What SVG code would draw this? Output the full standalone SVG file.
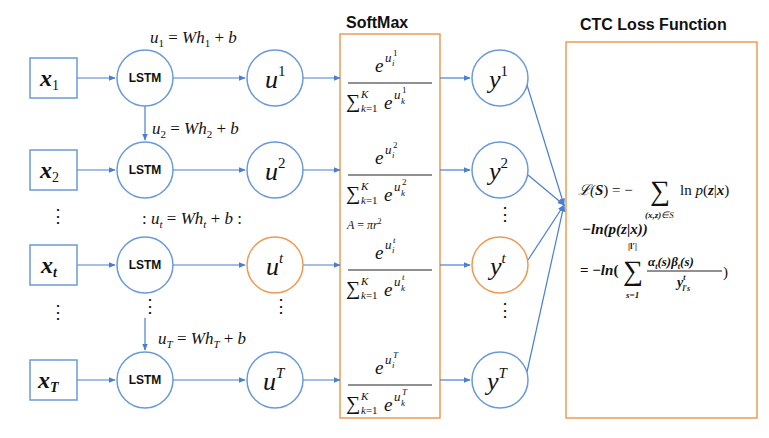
<svg xmlns="http://www.w3.org/2000/svg" width="769" height="438" viewBox="0 0 769 438">
<defs>
<marker id="a" viewBox="0 0 10 10" refX="9" refY="5" markerWidth="6" markerHeight="6" orient="auto"><path d="M0,1 L10,5 L0,9 z" fill="#4a7fd0"/></marker>
<style>
.bx{fill:#fff;stroke:#6a9ad8;stroke-width:1.5}
.c{fill:#fff;stroke:#6a9ad8;stroke-width:1.5}
.o{fill:#fff;stroke:#ee9a55;stroke-width:1.5}
.ln{stroke:#4a7fd0;stroke-width:1.2;fill:none}
.m{font-family:"Liberation Serif",serif;font-style:italic;fill:#111}
.b{font-family:"Liberation Sans",sans-serif;font-weight:bold;fill:#111}
.xl{font-family:"Liberation Serif",serif;font-weight:bold;font-style:italic;fill:#111}
.h{font-family:"Liberation Sans",sans-serif;font-weight:bold;font-size:16px;fill:#111}
.d{font-family:"Liberation Serif",serif;font-size:18px;fill:#111}
</style>
</defs>
<rect width="769" height="438" fill="#fff"/>
<text class="h" x="346" y="28">SoftMax</text>
<text class="h" x="580" y="30">CTC Loss Function</text>
<rect x="340" y="34" width="100" height="384" fill="none" stroke="#ee9a55" stroke-width="1.5"/>
<rect x="566" y="42" width="191" height="376" fill="none" stroke="#ee9a55" stroke-width="1.5"/>
<g id="connectors">
<line class="ln" x1="77" y1="78" x2="115" y2="78" marker-end="url(#a)"/>
<line class="ln" x1="77" y1="170" x2="115" y2="170" marker-end="url(#a)"/>
<line class="ln" x1="77" y1="265" x2="115" y2="265" marker-end="url(#a)"/>
<line class="ln" x1="77" y1="380" x2="115" y2="380" marker-end="url(#a)"/>
<line class="ln" x1="173" y1="78" x2="245" y2="78" marker-end="url(#a)"/>
<line class="ln" x1="173" y1="170" x2="245" y2="170" marker-end="url(#a)"/>
<line class="ln" x1="173" y1="265" x2="245" y2="265" marker-end="url(#a)"/>
<line class="ln" x1="173" y1="380" x2="245" y2="380" marker-end="url(#a)"/>
<line class="ln" x1="303" y1="78" x2="340" y2="78" marker-end="url(#a)"/>
<line class="ln" x1="303" y1="170" x2="340" y2="170" marker-end="url(#a)"/>
<line class="ln" x1="303" y1="265" x2="340" y2="265" marker-end="url(#a)"/>
<line class="ln" x1="303" y1="380" x2="340" y2="380" marker-end="url(#a)"/>
<line class="ln" x1="440" y1="78" x2="470" y2="78" marker-end="url(#a)"/>
<line class="ln" x1="440" y1="170" x2="470" y2="170" marker-end="url(#a)"/>
<line class="ln" x1="440" y1="265" x2="470" y2="265" marker-end="url(#a)"/>
<line class="ln" x1="440" y1="380" x2="470" y2="380" marker-end="url(#a)"/>
<line class="ln" x1="145" y1="106" x2="145" y2="140" marker-end="url(#a)"/>
<line class="ln" x1="145" y1="318" x2="145" y2="350" marker-end="url(#a)"/>
<line class="ln" x1="527" y1="85" x2="564" y2="205" marker-end="url(#a)"/>
<line class="ln" x1="528" y1="175" x2="564" y2="205" marker-end="url(#a)"/>
<line class="ln" x1="528" y1="260" x2="564" y2="205" marker-end="url(#a)"/>
<line class="ln" x1="527" y1="372" x2="564" y2="205" marker-end="url(#a)"/>
</g>
<g id="x1"><rect class="bx" x="30" y="58" width="47" height="40"/><text class="xl" font-size="24" x="40" y="86">x<tspan font-size="14" font-weight="normal" font-style="normal" dy="4">1</tspan></text></g>
<g id="x2"><rect class="bx" x="30" y="150" width="47" height="40"/><text class="xl" font-size="24" x="40" y="178">x<tspan font-size="14" font-weight="normal" font-style="normal" dy="4">2</tspan></text></g>
<g id="xt"><rect class="bx" x="30" y="245" width="47" height="40"/><text class="xl" font-size="24" x="41" y="273">x<tspan font-size="14" dy="4">t</tspan></text></g>
<g id="xT"><rect class="bx" x="30" y="360" width="47" height="40"/><text class="xl" font-size="24" x="38" y="388">x<tspan font-size="14" dy="4">T</tspan></text></g>
<g id="lstm1"><circle class="c" cx="145" cy="78" r="28"/><text class="b" font-size="12" x="145" y="82" text-anchor="middle">LSTM</text></g>
<g id="lstm2"><circle class="c" cx="145" cy="170" r="28"/><text class="b" font-size="12" x="145" y="174" text-anchor="middle">LSTM</text></g>
<g id="lstmt"><circle class="c" cx="145" cy="265" r="28"/><text class="b" font-size="12" x="145" y="269" text-anchor="middle">LSTM</text></g>
<g id="lstmT"><circle class="c" cx="145" cy="380" r="28"/><text class="b" font-size="12" x="145" y="384" text-anchor="middle">LSTM</text></g>
<g id="u1"><circle class="c" cx="275" cy="78" r="28"/><text class="m" font-size="26" x="265" y="88">u<tspan font-size="15" font-style="normal" dy="-12">1</tspan></text></g>
<g id="u2"><circle class="c" cx="275" cy="170" r="28"/><text class="m" font-size="26" x="265" y="180">u<tspan font-size="15" font-style="normal" dy="-12">2</tspan></text></g>
<g id="ut"><circle class="o" cx="275" cy="265" r="28"/><text class="m" font-size="26" x="266" y="275">u<tspan font-size="15" dy="-12">t</tspan></text></g>
<g id="uT"><circle class="c" cx="275" cy="380" r="28"/><text class="m" font-size="26" x="263" y="390">u<tspan font-size="15" dy="-12">T</tspan></text></g>
<g id="y1"><circle class="c" cx="500" cy="78" r="28"/><text class="m" font-size="26" x="489" y="88">y<tspan font-size="15" font-style="normal" dy="-12">1</tspan></text></g>
<g id="y2"><circle class="c" cx="500" cy="170" r="28"/><text class="m" font-size="26" x="489" y="180">y<tspan font-size="15" font-style="normal" dy="-12">2</tspan></text></g>
<g id="yt"><circle class="o" cx="500" cy="265" r="28"/><text class="m" font-size="26" x="490" y="275">y<tspan font-size="15" dy="-12">t</tspan></text></g>
<g id="yT"><circle class="c" cx="500" cy="380" r="28"/><text class="m" font-size="26" x="487" y="390">y<tspan font-size="15" dy="-12">T</tspan></text></g>
<g id="labels" class="m" font-size="17">
<text x="150" y="43">u<tspan font-size="11" font-style="normal" dy="4">1</tspan><tspan dy="-4" font-style="normal"> = </tspan>Wh<tspan font-size="11" font-style="normal" dy="4">1</tspan><tspan dy="-4" font-style="normal"> + </tspan>b</text>
<text x="152" y="134">u<tspan font-size="11" font-style="normal" dy="4">2</tspan><tspan dy="-4" font-style="normal"> = </tspan>Wh<tspan font-size="11" font-style="normal" dy="4">2</tspan><tspan dy="-4" font-style="normal"> + </tspan>b</text>
<text x="142" y="224"><tspan font-style="normal">: </tspan>u<tspan font-size="11" dy="4">t</tspan><tspan dy="-4" font-style="normal"> = </tspan>Wh<tspan font-size="11" dy="4">t</tspan><tspan dy="-4" font-style="normal"> + </tspan>b<tspan font-style="normal"> :</tspan></text>
<text x="158" y="344">u<tspan font-size="11" dy="4">T</tspan><tspan dy="-4" font-style="normal"> = </tspan>Wh<tspan font-size="11" dy="4">T</tspan><tspan dy="-4" font-style="normal"> + </tspan>b</text>
<text x="347" y="229" font-size="12">A <tspan font-style="normal">=</tspan> πr<tspan font-size="8" font-style="normal" dy="-5">2</tspan></text>
</g>
<g id="dots" class="d">
<text x="49" y="222">⋮</text><text x="49" y="318">⋮</text>
<text x="141" y="312">⋮</text><text x="272" y="312">⋮</text>
<text x="496" y="220">⋮</text><text x="496" y="316">⋮</text>
</g>
<g id="softmax" class="m">
<g transform="translate(390,0)">
<text x="-15" y="72" font-size="19">e</text><text x="-5" y="62" font-size="13">u</text><text x="2" y="66" font-size="9">i</text><text x="3" y="56" font-size="9" font-style="normal">1</text>
<line x1="-42" y1="83" x2="42" y2="83" stroke="#222" stroke-width="1.2"/>
<text x="-44" y="108" font-size="20" font-style="normal">∑</text><text x="-29" y="98" font-size="11">K</text><text x="-29" y="112" font-size="11">k<tspan font-style="normal">=1</tspan></text>
<text x="-6" y="109" font-size="19">e</text><text x="4" y="99" font-size="13">u</text><text x="11" y="104" font-size="9">k</text><text x="12" y="93" font-size="9" font-style="normal">1</text>
</g>
<g transform="translate(390,92)">
<text x="-15" y="72" font-size="19">e</text><text x="-5" y="62" font-size="13">u</text><text x="2" y="66" font-size="9">i</text><text x="3" y="56" font-size="9" font-style="normal">2</text>
<line x1="-42" y1="83" x2="42" y2="83" stroke="#222" stroke-width="1.2"/>
<text x="-44" y="108" font-size="20" font-style="normal">∑</text><text x="-29" y="98" font-size="11">K</text><text x="-29" y="112" font-size="11">k<tspan font-style="normal">=1</tspan></text>
<text x="-6" y="109" font-size="19">e</text><text x="4" y="99" font-size="13">u</text><text x="11" y="104" font-size="9">k</text><text x="12" y="93" font-size="9" font-style="normal">2</text>
</g>
<g transform="translate(390,187)">
<text x="-15" y="72" font-size="19">e</text><text x="-5" y="62" font-size="13">u</text><text x="2" y="66" font-size="9">i</text><text x="3" y="56" font-size="9">t</text>
<line x1="-42" y1="83" x2="42" y2="83" stroke="#222" stroke-width="1.2"/>
<text x="-44" y="108" font-size="20" font-style="normal">∑</text><text x="-29" y="98" font-size="11">K</text><text x="-29" y="112" font-size="11">k<tspan font-style="normal">=1</tspan></text>
<text x="-6" y="109" font-size="19">e</text><text x="4" y="99" font-size="13">u</text><text x="11" y="104" font-size="9">k</text><text x="12" y="93" font-size="9">t</text>
</g>
<g transform="translate(390,302)">
<text x="-15" y="72" font-size="19">e</text><text x="-5" y="62" font-size="13">u</text><text x="2" y="66" font-size="9">i</text><text x="3" y="56" font-size="9">T</text>
<line x1="-42" y1="83" x2="42" y2="83" stroke="#222" stroke-width="1.2"/>
<text x="-44" y="108" font-size="20" font-style="normal">∑</text><text x="-29" y="98" font-size="11">K</text><text x="-29" y="112" font-size="11">k<tspan font-style="normal">=1</tspan></text>
<text x="-6" y="109" font-size="19">e</text><text x="4" y="99" font-size="13">u</text><text x="11" y="104" font-size="9">k</text><text x="12" y="93" font-size="9">T</text>
</g>
</g>
<g id="ctc" font-family="Liberation Serif,serif" fill="#111">
<text x="578" y="195" font-size="15"><tspan font-style="italic">ℒ(</tspan><tspan font-weight="bold" font-style="italic">S</tspan>) = − </text>
<text x="650" y="200" font-size="28">∑</text>
<text x="645" y="218" font-size="9" font-weight="bold" font-style="italic">(x,z)<tspan font-weight="normal">∈S</tspan></text>
<text x="680" y="195" font-size="15">ln <tspan font-style="italic">p</tspan>(<tspan font-weight="bold" font-style="italic">z</tspan>|<tspan font-weight="bold" font-style="italic">x</tspan>)</text>
<text x="582" y="234" font-size="15" font-weight="bold" font-style="italic">−ln(p(z|x))</text>
<text x="628" y="249" font-size="9" font-weight="bold">|l′|</text>
<text x="580" y="275" font-size="15" font-weight="bold">= −<tspan font-style="italic">ln</tspan>(</text>
<text x="623" y="280" font-size="28">∑</text>
<text x="626" y="298" font-size="9" font-weight="bold" font-style="italic">s=1</text>
<text x="648" y="266" font-size="13" font-weight="bold" font-style="italic">α<tspan font-size="8" dy="3">t</tspan><tspan dy="-3">(s)β</tspan><tspan font-size="8" dy="3">t</tspan><tspan dy="-3">(s)</tspan></text>
<line x1="647" y1="271" x2="722" y2="271" stroke="#222" stroke-width="1"/>
<text x="677" y="287" font-size="14" font-weight="bold" font-style="italic">y<tspan font-size="8" dy="-7">t</tspan><tspan font-size="8" dx="-3" dy="11">l′s</tspan></text>
<text x="723" y="277" font-size="15">)</text>
</g>
</svg>
